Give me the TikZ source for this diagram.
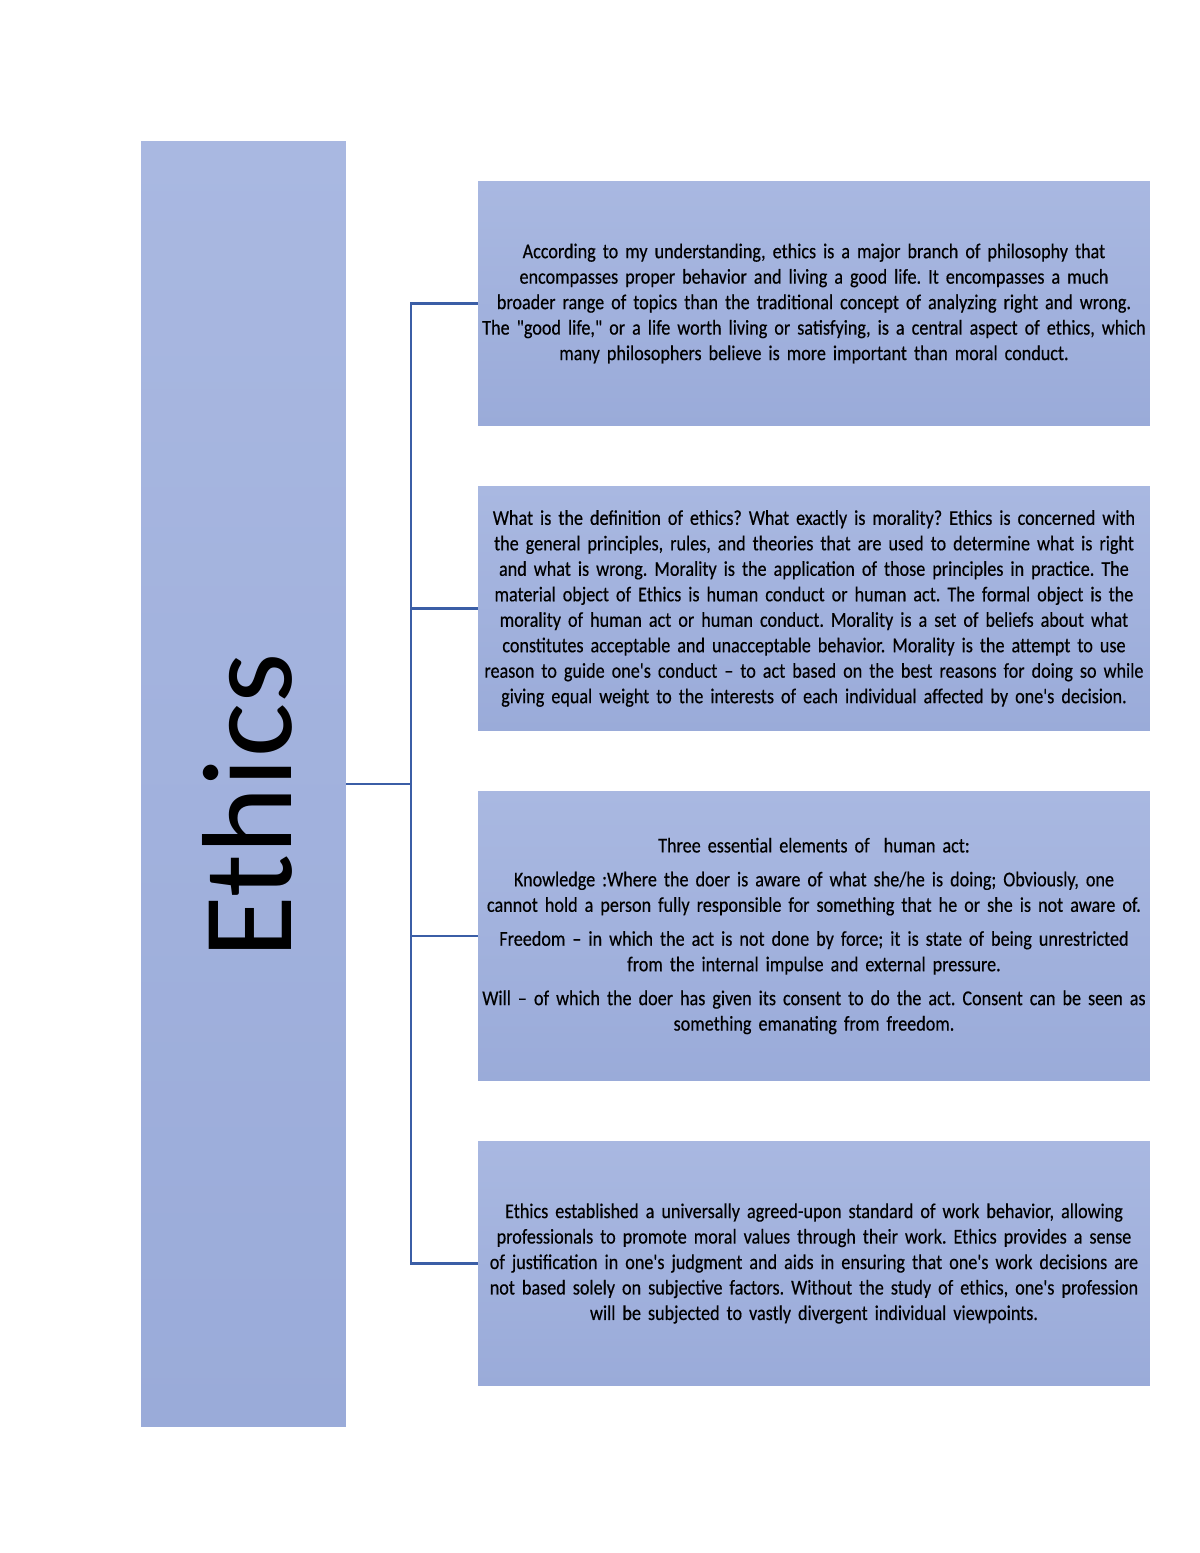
\documentclass[tikz,border=0pt]{standalone}
\usepackage{fontspec}
\setmainfont{Carlito}
\newfontfamily\boxfont[FakeStretch=0.86, FakeBold=0.4]{Carlito}
\usetikzlibrary{positioning}
\frenchspacing

\definecolor{boxtop}{HTML}{A9B8E1}
\definecolor{boxbot}{HTML}{9AABD9}
\definecolor{linkblue}{HTML}{3B5EA6}

\tikzset{
  textbox/.style={top color=boxtop, bottom color=boxbot, minimum width=13.44cm,
    inner sep=0pt, align=center, text width=13.44cm,
    font=\boxfont\fontsize{12}{14.5}\selectfont},
  link/.style={draw=linkblue, line width=1.4pt}
}

\begin{document}
\begin{tikzpicture}[x=0.02cm, y=-0.02cm]
    \useasboundingbox (0,0) rectangle (1200,1553);

    % Title column
    \node[top color=boxtop, bottom color=boxbot, minimum width=4.1cm, minimum height=25.72cm, inner sep=0pt] (ethics) at (243.5, 784) {};
    \node[rotate=90, anchor=base, font=\fontsize{73}{76}\selectfont] (title) at (291, 806) {Ethics};

    % Boxes
    \node[textbox, minimum height=4.9cm] (meaning) at (814, 303.5) {According to my understanding, ethics is a major branch of philosophy that\\
encompasses proper behavior and living a good life. It encompasses a much\\
broader range of topics than the traditional concept of analyzing right and wrong.\\
The "good life," or a life worth living or satisfying, is a central aspect of ethics, which\\
many philosophers believe is more important than moral conduct.};

    \node[textbox, minimum height=4.9cm] (morality) at (814, 608.5) {What is the definition of ethics? What exactly is morality? Ethics is concerned with\\
the general principles, rules, and theories that are used to determine what is right\\
and what is wrong. Morality is the application of those principles in practice. The\\
material object of Ethics is human conduct or human act. The formal object is the\\
morality of human act or human conduct. Morality is a set of beliefs about what\\
constitutes acceptable and unacceptable behavior. Morality is the attempt to use\\
reason to guide one's conduct – to act based on the best reasons for doing so while\\
giving equal weight to the interests of each individual affected by one's decision.};

    \node[textbox, minimum height=5.8cm] (humanact) at (814, 936) {Three essential elements of \ human act:\\[4.8pt]
Knowledge :Where the doer is aware of what she/he is doing; Obviously, one\\
cannot hold a person fully responsible for something that he or she is not aware of.\\[4.8pt]
Freedom – in which the act is not done by force; it is state of being unrestricted\\
from the internal impulse and external pressure.\\[4.8pt]
Will – of which the doer has given its consent to do the act. Consent can be seen as\\
something emanating from freedom.};

    \node[textbox, minimum height=4.9cm] (profession) at (814, 1263.5) {Ethics established a universally agreed-upon standard of work behavior, allowing\\
professionals to promote moral values through their work. Ethics provides a sense\\
of justification in one's judgment and aids in ensuring that one's work decisions are\\
not based solely on subjective factors. Without the study of ethics, one's profession\\
will be subjected to vastly divergent individual viewpoints.};

    % Connectors
    \coordinate (hub) at (411, 784);
    \draw[link] (ethics.east) -- (hub);
    \foreach \b in {meaning, morality, humanact, profession}
        \draw[link] (hub) |- (\b.west);
\end{tikzpicture}
\end{document}
